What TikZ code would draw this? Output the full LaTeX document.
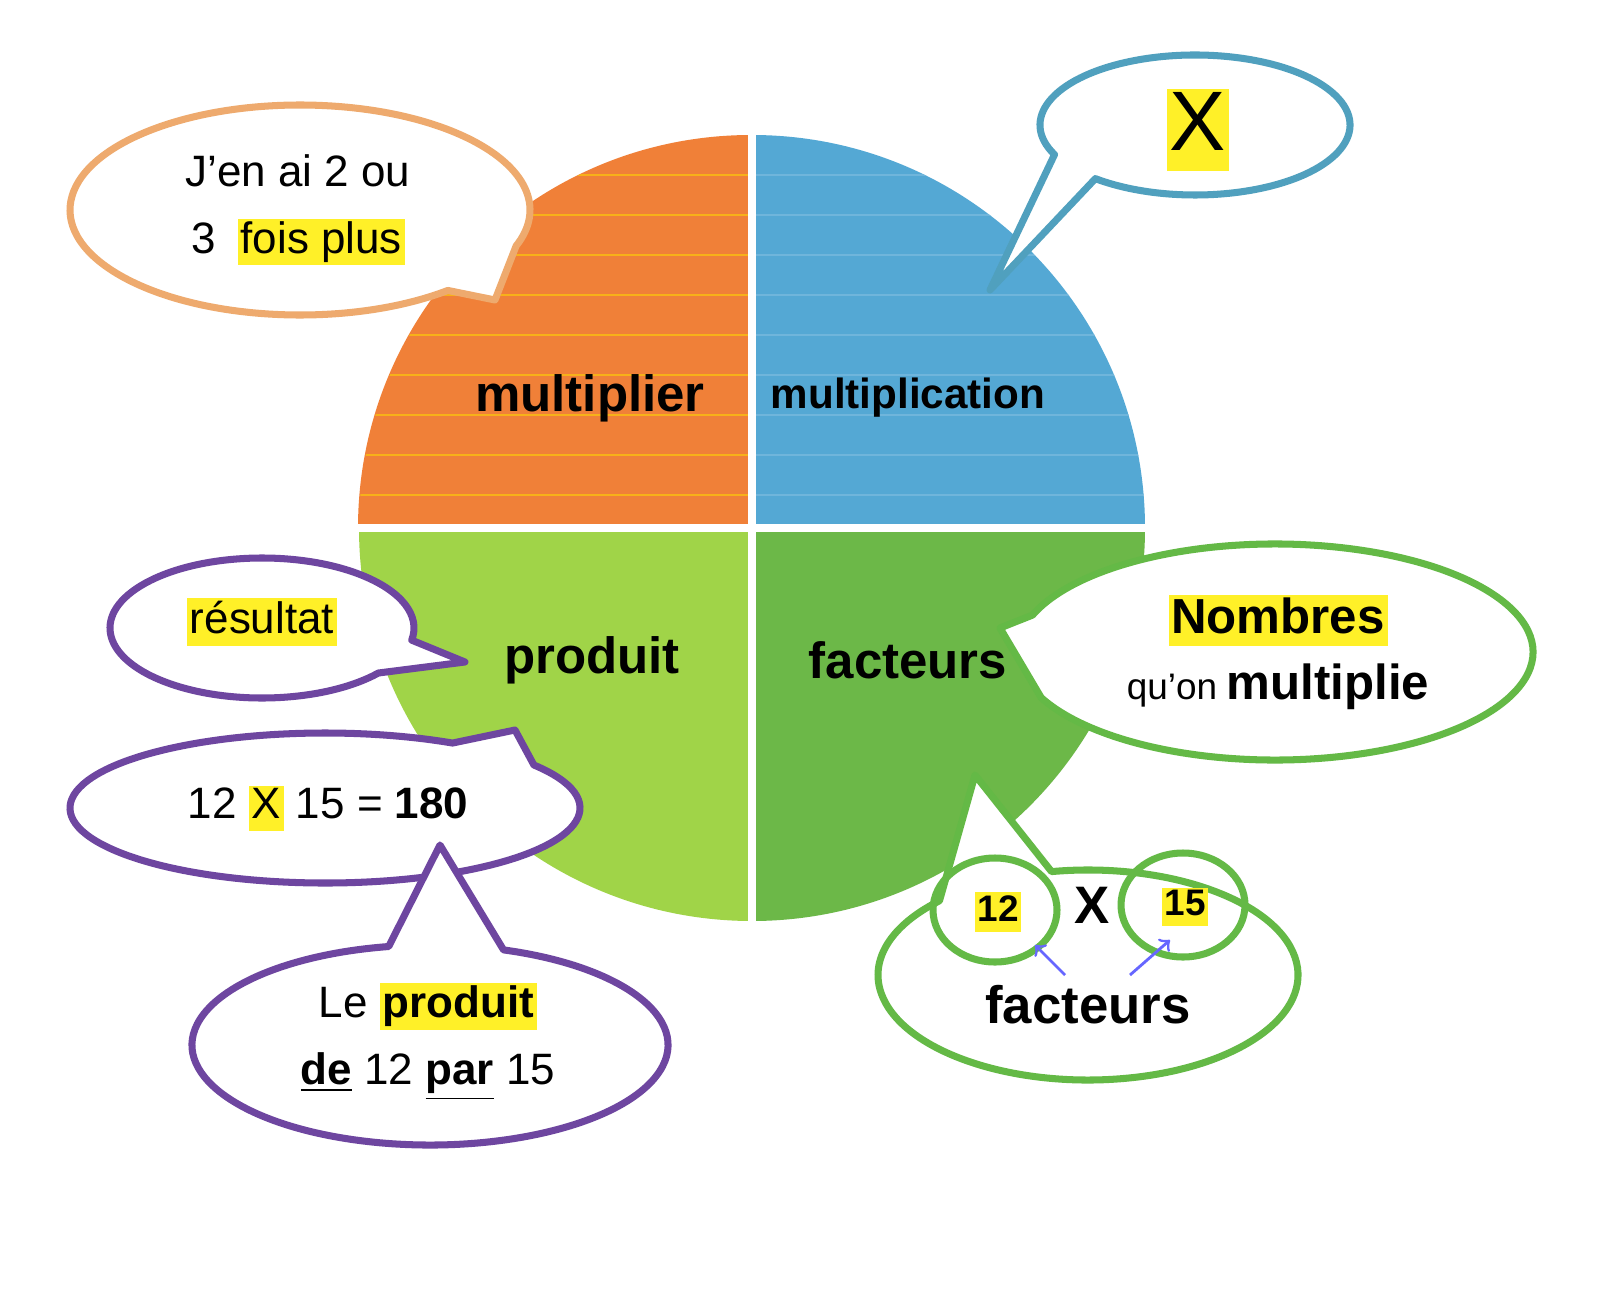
\documentclass[tikz,border=0pt]{standalone}
\usepackage{fontspec}
\setmainfont{Liberation Sans}
\usetikzlibrary{calc}
\definecolor{orangeq}{RGB}{240,128,56}
\definecolor{blueq}{RGB}{84,168,212}
\definecolor{lgreenq}{RGB}{160,212,72}
\definecolor{greenq}{RGB}{108,184,72}
\definecolor{orangeb}{RGB}{238,170,110}
\definecolor{blueb}{RGB}{80,160,190}
\definecolor{purpleb}{RGB}{110,70,160}
\definecolor{greenb}{RGB}{100,185,70}
\definecolor{hlyellow}{RGB}{255,240,40}
\newcommand{\hl}[1]{{\setlength{\fboxsep}{0.8pt}\colorbox{hlyellow}{#1\vphantom{Ap}}}}
% bubble: colour, cx, cy, rx, ry, angle 1, angle 2, tip
\newcommand{\bubble}[8]{%
  \draw[#1, line width=2pt, fill=white] ($(#2,#3)+(#6:#4 and #5)$) -- #8
    -- ($(#2,#3)+(#7:#4 and #5)$)
    arc[start angle=#7, end angle=#6+360, x radius=#4, y radius=#5] -- cycle;}
\tikzset{
  quad/.style={font=\fontsize{14.5}{16}\selectfont\bfseries},
  txt/.style={align=center, font=\fontsize{12.5}{19}\selectfont}
}
\begin{document}
\begin{tikzpicture}[x=0.01cm, y=-0.01cm, line join=round]
  \useasboundingbox[fill=white] (0,0) rectangle (1600,1297);
  % pie
  \coordinate (C) at (752,528);
  \fill[orangeq] (C) -- (358,528) arc[start angle=180, end angle=270, radius=393] -- cycle;
  \fill[blueq] (C) -- (752,135) arc[start angle=270, end angle=360, radius=393] -- cycle;
  \fill[lgreenq] (C) -- (752,921) arc[start angle=90, end angle=180, radius=393] -- cycle;
  \fill[greenq] (C) -- (1145,528) arc[start angle=0, end angle=90, radius=393] -- cycle;
  \begin{scope}
    \clip (C) circle (393);
    \foreach \yy in {175,215,...,495} {
      \draw[yellow!70!orange, opacity=0.6] (300,\yy) -- (752,\yy);
      \draw[blueq!80!white, opacity=0.8] (752,\yy) -- (1200,\yy);
    }
  \end{scope}
  \draw[white, line width=2pt] (752,130) -- (752,925) (355,528) -- (1150,528);
  \node[quad] (multiplier) at (590,398) {multiplier};
  \node[font=\fontsize{12}{14}\selectfont\bfseries] (multiplication) at (908,398) {multiplication};
  \node[quad] (produit) at (592,660) {produit};
  \node[quad] (facteurs) at (908,660) {facteurs};
  % bubbles
  \bubble{orangeb}{300}{210}{230}{105}{20}{50}{(495,300)}
  \node[txt] (fois) at (298,210) {J’en ai 2 ou\\3\enspace\hl{fois plus}};
  \bubble{blueb}{1195}{125}{155}{70}{130}{155}{(990,290)}
  \node[font=\fontsize{24}{28}\selectfont] (signe) at (1198,130) {\hl{X}};
  \bubble{purpleb}{262}{628}{152}{70}{10}{40}{(465,662)}
  \node[txt] (resultat) at (262,622) {\hl{résultat}};
  \bubble{purpleb}{325}{808}{255}{75}{-60}{-35}{(515,730)}
  \node[txt] (egalite) at (328,808) {12 \hl{X} 15 = \textbf{180}};
  \bubble{purpleb}{430}{1045}{238}{100}{-100}{-72}{(440,845)}
  \node[txt] (leproduit) at (428,1042) {Le \hl{\textbf{produit}}\\\underline{\textbf{de}} 12 \underline{\textbf{par}} 15};
  \bubble{greenb}{1275}{652}{258}{108}{155}{200}{(1000,628)}
  \node[align=center] (nombres) at (1278,652) {\fontsize{14}{16}\selectfont\bfseries\hl{Nombres}\\[4pt]
    {\fontsize{10.5}{12}\selectfont qu’on} {\fontsize{14}{16}\selectfont\bfseries multiplie}};
  \bubble{greenb}{1088}{975}{210}{105}{-135}{-100}{(975,775)}
  \draw[greenb, line width=2pt] (995,910) ellipse (62 and 52);
  \draw[greenb, line width=2pt] (1183,905) ellipse (62 and 52);
  \node[font=\fontsize{10.5}{12}\selectfont\bfseries] (douze) at (998,912) {\hl{12}};
  \node[font=\fontsize{10.5}{12}\selectfont\bfseries] (quinze) at (1185,907) {\hl{15}};
  \node[font=\fontsize{15}{18}\selectfont\bfseries] (fois2) at (1092,905) {X};
  \node[font=\fontsize{15}{18}\selectfont\bfseries] (facteursb) at (1088,1005) {facteurs};
  \draw[->, blue!60, thick] (1065,975) -- (1035,945);
  \draw[->, blue!60, thick] (1130,975) -- (1170,940);
\end{tikzpicture}
\end{document}
